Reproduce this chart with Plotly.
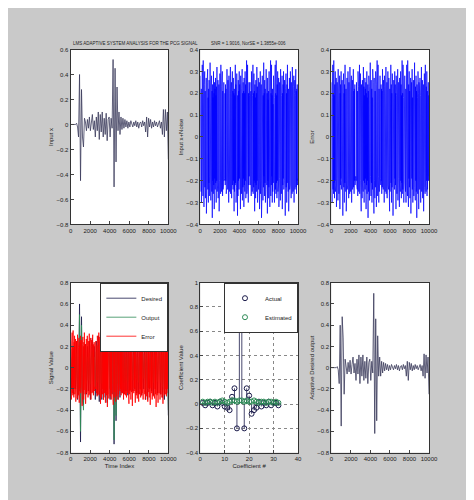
import numpy as np
import plotly.graph_objects as go

input_x = [0, 0, 0, 0, 0, 0, 0.01, -0.02, -0.1, 0.4, -0.45, 0.28, -0.1, -0.18, 0.05, 0.02, -0.05, 0.04,
           -0.03, 0.06, -0.05, 0.02, 0.08, -0.04, 0.03, -0.1, 0.06, -0.05, 0.1, -0.12, 0.08, -0.06, 0.1,
           -0.1, 0.05, -0.08, 0.09, -0.13, 0.04, 0.06, -0.1, 0.05, -0.03, 0.52, -0.5, 0.45, -0.3, 0.3,
           -0.05, 0.1, -0.08, 0.06, -0.04, 0.05, -0.03, 0.04, -0.02, 0.03, -0.03, 0.02, -0.02, 0.03, 0.01,
           -0.02, 0.02, -0.01, 0.03, -0.02, 0.02, -0.03, 0.01, 0.02, -0.02, 0.03, -0.01, 0.02, -0.06, 0.06,
           -0.1, 0.05, -0.02, 0.04, -0.03, 0.02, -0.02, 0.03, -0.01, 0.02, -0.02, 0.01, 0.03, -0.03, 0.02,
           -0.08, 0.12, -0.1, 0.12, -0.05, 0.1, -0.28]
noise = [0.28, -0.21, 0.15, -0.25, 0.22, -0.3, 0.19, -0.18, 0.33, -0.22, 0.2, -0.27, 0.35, -0.2, 0.18,
         -0.32, 0.24, -0.19, 0.3, -0.23, 0.21, -0.28, 0.17, -0.2, 0.27, -0.35, 0.2, -0.22, 0.25, -0.19,
         0.31, -0.24, 0.18, -0.3, 0.22, -0.21, 0.26, -0.27, 0.2, -0.18, 0.34, -0.23, 0.19, -0.29, 0.23,
         -0.2, 0.28, -0.25, 0.21, -0.37, 0.24, -0.2, 0.18, -0.26, 0.3, -0.22, 0.2, -0.33, 0.25, -0.19,
         0.22, -0.24, 0.27, -0.21, 0.19, -0.3, 0.23, -0.2, 0.32, -0.25, 0.2, -0.22, 0.26, -0.28, 0.18,
         -0.21, 0.24, -0.34, 0.21, -0.2, 0.29, -0.23, 0.2, -0.26, 0.33, -0.22, 0.19, -0.25, 0.23, -0.2,
         0.3, -0.27, 0.21, -0.24, 0.2, -0.22, 0.25, -0.2, 0.19, -0.18]
error = [0.25, -0.22, 0.2, -0.3, 0.18, -0.2, 0.33, -0.24, 0.2, -0.26, 0.35, -0.21, 0.19, -0.28, 0.24,
         -0.2, 0.3, -0.25, 0.2, -0.22, 0.27, -0.32, 0.21, -0.19, 0.25, -0.23, 0.2, -0.29, 0.31, -0.2,
         0.22, -0.26, 0.19, -0.21, 0.28, -0.33, 0.2, -0.22, 0.24, -0.19, 0.3, -0.24, 0.21, -0.2, 0.26,
         -0.27, 0.19, -0.36, 0.22, -0.2, 0.29, -0.23, 0.2, -0.3, 0.24, -0.21, 0.33, -0.22, 0.19, -0.25,
         0.22, -0.34, 0.2, -0.2, 0.27, -0.24, 0.21, -0.22, 0.3, -0.2, 0.18, -0.28, 0.25, -0.21, 0.2,
         -0.26, 0.32, -0.22, 0.2, -0.25, 0.23, -0.2, 0.28, -0.3, 0.2, -0.22, 0.26, -0.24, 0.19, -0.2,
         0.31, -0.23, 0.21, -0.26, 0.22, -0.2, 0.24, -0.22, 0.2, -0.19]
desired = [0.2, -0.2, 0.15, -0.25, 0.2, -0.2, 0.25, -0.3, -0.2, 0.6, -0.7, 0.48, -0.3, -0.35, 0.2, 0.22,
           -0.25, 0.2, -0.22, 0.25, -0.3, 0.2, 0.28, -0.24, 0.2, -0.3, 0.25, -0.26, 0.3, -0.32, 0.25,
           -0.3, 0.28, -0.3, 0.2, -0.28, 0.3, -0.33, 0.2, 0.25, -0.3, 0.22, -0.25, 0.75, -0.72, 0.65,
           -0.5, 0.45, -0.3, 0.3, -0.28, 0.25, -0.24, 0.22, -0.25, 0.2, -0.22, 0.25, -0.26, 0.2, -0.22,
           0.24, 0.2, -0.22, 0.23, -0.2, 0.25, -0.24, 0.2, -0.25, 0.2, 0.22, -0.26, 0.24, -0.2, 0.22,
           -0.3, 0.25, -0.3, 0.22, -0.2, 0.24, -0.22, 0.2, -0.26, 0.24, -0.2, 0.22, -0.24, 0.2, 0.25,
           -0.25, 0.22, -0.28, 0.3, -0.3, 0.28, -0.25, 0.3, -0.45]
output = [0.1, -0.1, 0.12, -0.15, 0.1, -0.12, 0.14, -0.2, -0.25, 0.5, -0.6, 0.4, -0.25, -0.4, 0.1, 0.12,
          -0.15, 0.1, -0.12, 0.14, -0.15, 0.1, 0.15, -0.12, 0.1, -0.2, 0.15, -0.14, 0.2, -0.22, 0.16,
          -0.15, 0.2, -0.2, 0.12, -0.18, 0.2, -0.22, 0.1, 0.14, -0.2, 0.12, -0.15, 0.7, -0.68, 0.6,
          -0.45, 0.4, -0.15, 0.2, -0.16, 0.14, -0.12, 0.12, -0.14, 0.1, -0.12, 0.12, -0.13, 0.1, -0.12,
          0.13, 0.1, -0.12, 0.12, -0.1, 0.13, -0.12, 0.1, -0.14, 0.1, 0.12, -0.14, 0.13, -0.1, 0.12,
          -0.2, 0.15, -0.2, 0.12, -0.1, 0.13, -0.12, 0.1, -0.14, 0.12, -0.1, 0.12, -0.13, 0.1, 0.14,
          -0.14, 0.12, -0.18, 0.2, -0.2, 0.18, -0.15, 0.2, -0.4]
adaptive_out = [0, 0, 0, 0, 0, 0, 0.01, -0.02, -0.15, 0.4, -0.55, 0.48, 0.28, -0.25, 0.08, 0.02, -0.06,
                0.05, -0.04, 0.07, -0.06, 0.03, 0.1, -0.05, 0.04, -0.12, 0.08, -0.06, 0.12, -0.15, 0.1,
                -0.08, 0.12, -0.12, 0.06, -0.1, 0.1, -0.15, 0.05, 0.08, -0.12, 0.06, -0.05, 0.7, -0.62,
                0.46, -0.5, 0.3, -0.08, 0.1, -0.08, 0.06, -0.05, 0.05, -0.03, 0.04, -0.02, 0.03, -0.03,
                0.02, -0.02, 0.03, 0.01, -0.02, 0.02, -0.01, 0.03, -0.02, 0.02, -0.03, 0.01, 0.02, -0.02,
                0.03, -0.01, 0.02, -0.08, 0.06, -0.12, 0.05, -0.02, 0.04, -0.03, 0.02, -0.02, 0.03, -0.01,
                0.02, -0.02, 0.01, 0.03, -0.03, 0.02, -0.08, 0.13, -0.1, 0.12, -0.05, 0.1, -0.25]
coef_actual = [0.01, -0.01, 0.01, 0.02, -0.01, 0.01, -0.02, 0.02, 0.01, -0.02, -0.03, -0.05, 0.06,
               0.13, -0.2, 0.63, 0.63, -0.2, 0.13, 0.07, -0.08, -0.05, -0.03, 0.02, -0.02, 0.01, -0.01,
               0.02, -0.01, 0.01, 0.01, -0.01]
coef_est = [0.02, 0.01, 0.02, 0.02, 0.01, 0.02, 0.01, 0.02, 0.03, 0.02, 0.01, 0.02, 0.03, 0.03, 0.02,
            0.03, 0.03, 0.02, 0.03, 0.02, 0.02, 0.03, 0.02, 0.01, 0.02, 0.02, 0.01, 0.02, 0.02, 0.01,
            0.02, 0.01]

# the noisy panels are drawn from both typed noise records joined end to end
band_a = noise + error[::-1] + noise[::-1] + error
band_b = error + noise[::-1] + error[::-1] + noise

t_sig = np.linspace(0, 10000, len(input_x))
t_band = np.linspace(0, 10000, len(band_a))
taps = np.arange(1, len(coef_actual) + 1)

BG = '#c9c9c9'
FONT = dict(family='Liberation Sans', size=6, color='#222')
xd = [(0.131, 0.342), (0.411, 0.622), (0.694, 0.905)]
yd = [(0.568, 0.922), (0.106, 0.45)]

fig = go.Figure()


def line(x, y, color, ax, name=None, legend=None, width=0.8):
    fig.add_trace(go.Scatter(x=x, y=y, mode='lines', line=dict(color=color, width=width),
                             xaxis='x' + ax, yaxis='y' + ax, name=name,
                             showlegend=legend is not None, legend=legend))


line(t_sig, input_x, '#3a3a5a', '')
line(t_band, band_a, '#0000ff', '2', width=0.7)
line(t_band, band_b, '#0000ff', '3', width=0.7)
line(t_sig, desired, '#1a1a4a', '4', 'Desired', 'legend')
line(t_sig, output, '#2e8b57', '4', 'Output', 'legend')
line(t_band, band_b, '#ff0000', '4', 'Error', 'legend', width=0.8)
line(t_sig, adaptive_out, '#3a3a5a', '6')

# stem plots
for vals, color, name in [(coef_actual, '#1a1a4a', 'Actual'), (coef_est, '#2e8b57', 'Estimated')]:
    sx, sy = [], []
    for k, v in zip(taps, vals):
        sx += [k, k, None]
        sy += [0, v, None]
    fig.add_trace(go.Scatter(x=sx, y=sy, mode='lines', line=dict(color=color, width=0.8),
                             xaxis='x5', yaxis='y5', showlegend=False, hoverinfo='skip'))
    fig.add_trace(go.Scatter(x=taps, y=vals, mode='markers',
                             marker=dict(symbol='circle-open', size=5, color=color),
                             xaxis='x5', yaxis='y5', name=name, legend='legend2'))

layout = dict(paper_bgcolor=BG, plot_bgcolor='white', width=474, height=500,
              margin=dict(l=0, r=0, t=0, b=0), font=FONT)
specs = {
    '': (0, 0, [0, 10000], [-0.8, 0.6], 'Input x', None, 0.2),
    '2': (1, 0, [0, 10000], [-0.4, 0.4], 'Input x+Noise', None, 0.1),
    '3': (2, 0, [0, 10000], [-0.4, 0.4], 'Error', None, 0.1),
    '4': (0, 1, [0, 10000], [-0.8, 0.8], 'Signal Value', 'Time Index', 0.2),
    '5': (1, 1, [0, 40], [-0.4, 1], 'Coefficient Value', 'Coefficient #', 0.2),
    '6': (2, 1, [0, 10000], [-0.8, 0.8], 'Adaptive Desired output', None, 0.2),
}
for ax, (c, r, xr, yr, ytitle, xtitle, dy) in specs.items():
    grid = ax == '5'
    layout['xaxis' + ax] = dict(domain=xd[c], anchor='y' + ax, range=xr, showline=True, mirror=True,
                                linecolor='#333', linewidth=1, ticks='inside', ticklen=3,
                                dtick=10 if grid else 2000, tickformat='d', tickangle=0,
                                showgrid=grid, gridcolor='#888', griddash='dot', zeroline=False,
                                tickfont=FONT, title=dict(text=xtitle, font=FONT, standoff=2))
    layout['yaxis' + ax] = dict(domain=yd[r], anchor='x' + ax, range=yr, showline=True, mirror=True,
                                linecolor='#333', linewidth=1, ticks='inside', ticklen=3, dtick=dy,
                                showgrid=grid, gridcolor='#888', griddash='dot', zeroline=False,
                                tickfont=FONT, title=dict(text=ytitle, font=FONT, standoff=2))
LEG_FONT = dict(family='Liberation Sans', size=6, color='#222')
layout['legend'] = dict(x=0.342, y=0.45, xanchor='right', yanchor='top', bgcolor='white',
                        bordercolor='#333', borderwidth=1, font=LEG_FONT, itemwidth=30,
                        tracegroupgap=0)
layout['legend2'] = dict(x=0.622, y=0.45, xanchor='right', yanchor='top', bgcolor='white',
                         bordercolor='#333', borderwidth=1, font=LEG_FONT, itemwidth=30,
                         tracegroupgap=0)
TITLE_FONT = dict(family='Liberation Sans', size=4.5, color='#222')
layout['annotations'] = [
    dict(text='LMS ADAPTIVE SYSTEM ANALYSIS FOR THE PCG SIGNAL', x=0.131, y=0.925, xref='paper',
         yref='paper', xanchor='left', yanchor='bottom', showarrow=False, font=TITLE_FONT),
    dict(text='SNR = 1.9016, NorSE = 1.3855e-006', x=0.43, y=0.925, xref='paper', yref='paper',
         xanchor='left', yanchor='bottom', showarrow=False, font=TITLE_FONT),
]
fig.update_layout(**layout)
fig.write_html("out.html")
